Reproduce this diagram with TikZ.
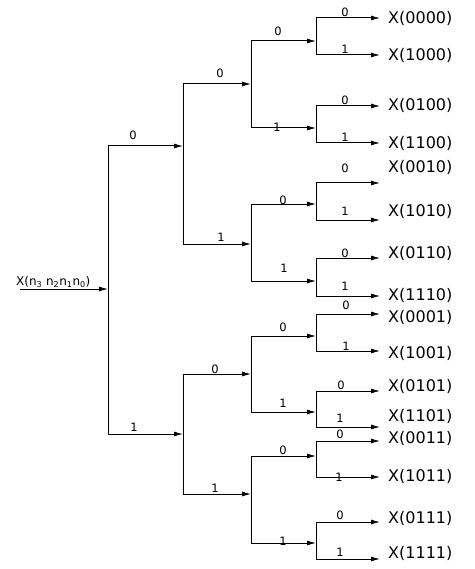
\documentclass[tikz,border=0pt]{standalone}
\usepackage{fontspec}
\setmainfont{DejaVu Sans}
\usetikzlibrary{arrows.meta}
\tikzset{
  wire/.style={line width=1pt, draw=black},
  arr/.style={wire, -{Latex[length=9pt,width=5pt]}},
  bit/.style={font=\fontsize{11.5}{11.5}\selectfont, inner sep=0pt},
  leaf/.style={font=\fontsize{16}{16}\selectfont, inner sep=0pt, anchor=west},
}
\begin{document}
\begin{tikzpicture}[x=1pt,y=-1pt]
\useasboundingbox (0,0) rectangle (474,569);
% junctions
\coordinate (in) at (20,289);
\coordinate (r) at (108,289);
\coordinate (a0) at (183,146);
\coordinate (a1) at (183,434);
\coordinate (b00) at (251,84);
\coordinate (b01) at (251,244);
\coordinate (b10) at (251,374);
\coordinate (b11) at (251,494);
\coordinate (c000) at (316,41);
\coordinate (c001) at (316,128);
\coordinate (c010) at (316,204);
\coordinate (c011) at (316,281);
\coordinate (c100) at (316,336);
\coordinate (c101) at (316,412);
\coordinate (c110) at (316,456);
\coordinate (c111) at (316,543);
% leaf arrow ends
\coordinate (e0000) at (380,18);
\coordinate (e1000) at (380,55);
\coordinate (e0100) at (380,106);
\coordinate (e1100) at (380,143);
\coordinate (e0010) at (380,183);
\coordinate (e1010) at (380,220);
\coordinate (e0110) at (380,258);
\coordinate (e1110) at (380,296);
\coordinate (e0001) at (380,314);
\coordinate (e1001) at (380,351);
\coordinate (e0101) at (380,391);
\coordinate (e1101) at (380,427);
\coordinate (e0011) at (380,441);
\coordinate (e1011) at (380,477);
\coordinate (e0111) at (380,522);
\coordinate (e1111) at (380,559);
% input
\node[font=\fontsize{12}{12}\selectfont, inner sep=0pt, anchor=west] (lab) at (16,282) {X(n\textsubscript{3} n\textsubscript{2}n\textsubscript{1}n\textsubscript{0})};
\draw[arr] (in) -- (r);
% binary splits
\foreach \p/\u/\v in {r/a0/a1, a0/b00/b01, a1/b10/b11,
  b00/c000/c001, b01/c010/c011, b10/c100/c101, b11/c110/c111,
  c000/e0000/e1000, c001/e0100/e1100, c010/e0010/e1010, c011/e0110/e1110,
  c100/e0001/e1001, c101/e0101/e1101, c110/e0011/e1011, c111/e0111/e1111}{
  \draw[wire] (\u -| \p) -- (\v -| \p);
  \draw[arr] (\u -| \p) -- (\u);
  \draw[arr] (\v -| \p) -- (\v);
}
% bit labels
\node[bit] (l1) at (133,135) {0};
\node[bit] (l2) at (134,427) {1};
\node[bit] (l3) at (220,73) {0};
\node[bit] (l4) at (221,237) {1};
\node[bit] (l5) at (215,369) {0};
\node[bit] (l6) at (215,488) {1};
\node[bit] (l7) at (278,31) {0};
\node[bit] (l8) at (277,127) {1};
\node[bit] (l9) at (283,200) {0};
\node[bit] (l10) at (284,268) {1};
\node[bit] (l11) at (283,327) {0};
\node[bit] (l12) at (283,403) {1};
\node[bit] (l13) at (283,450) {0};
\node[bit] (l14) at (283,541) {1};
\node[bit] (m1) at (345,12) {0};
\node[bit] (m2) at (345,49) {1};
\node[bit] (m3) at (345,100) {0};
\node[bit] (m4) at (345,137) {1};
\node[bit] (m5) at (345,168) {0};
\node[bit] (m6) at (345,211) {1};
\node[bit] (m7) at (345,253) {0};
\node[bit] (m8) at (345,286) {1};
\node[bit] (m9) at (346,305) {0};
\node[bit] (m10) at (346,346) {1};
\node[bit] (m11) at (341,385) {0};
\node[bit] (m12) at (340,418) {1};
\node[bit] (m13) at (340,434) {0};
\node[bit] (m14) at (339,477) {1};
\node[bit] (m15) at (340,515) {0};
\node[bit] (m16) at (340,552) {1};
% leaf texts
\node[leaf] (x0000) at (388,18) {X(0000)};
\node[leaf] (x1000) at (388,55) {X(1000)};
\node[leaf] (x0100) at (388,105) {X(0100)};
\node[leaf] (x1100) at (388,143) {X(1100)};
\node[leaf] (x0010) at (388,167) {X(0010)};
\node[leaf] (x1010) at (388,211) {X(1010)};
\node[leaf] (x0110) at (388,253) {X(0110)};
\node[leaf] (x1110) at (388,295) {X(1110)};
\node[leaf] (x0001) at (388,317) {X(0001)};
\node[leaf] (x1001) at (388,353) {X(1001)};
\node[leaf] (x0101) at (388,386) {X(0101)};
\node[leaf] (x1101) at (388,416) {X(1101)};
\node[leaf] (x0011) at (388,438) {X(0011)};
\node[leaf] (x1011) at (388,476) {X(1011)};
\node[leaf] (x0111) at (388,518) {X(0111)};
\node[leaf] (x1111) at (388,553) {X(1111)};
\end{tikzpicture}
\end{document}
